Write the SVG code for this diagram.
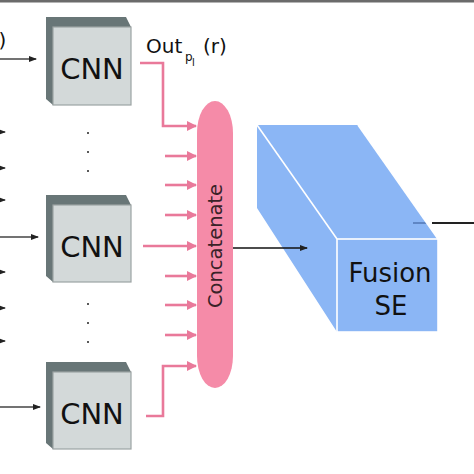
<svg xmlns="http://www.w3.org/2000/svg" width="474" height="474" viewBox="0 0 474 474">
<style>
text{font-family:"DejaVu Sans","Liberation Sans",sans-serif}
.dark{fill:#687677}
.front{fill:#d3d9d9;stroke:#9ca3a3;stroke-width:1.2}
.cnn{font-size:29px;fill:#111;text-anchor:middle}
.in{stroke:#444;stroke-width:1.3;fill:none}
.pk{stroke:#e9799a;stroke-width:2.6;fill:none}
.dot{fill:#222}
.blue{fill:#8bb6f5}
</style>
<defs>
<marker id="ah" markerWidth="8" markerHeight="6" refX="7" refY="3" orient="auto" markerUnits="userSpaceOnUse"><path d="M0,0 L8,3 L0,6 Z" fill="#222"/></marker>
<marker id="pa" markerWidth="10" markerHeight="10" refX="9" refY="5" orient="auto" markerUnits="userSpaceOnUse"><path d="M0,0 L10,5 L0,10 Z" fill="#e9799a"/></marker>
</defs>
<rect x="0" y="0" width="474" height="2.5" fill="#6b6b6b"/>
<text x="-1.5" y="47" font-size="20" fill="#111">)</text>

<g id="cnn1">
<path class="dark" d="M46,17 L126,17 L131,27 L53,27 L53,105 L46,99 Z"/>
<rect class="front" x="53" y="27" width="78" height="78"/>
<text class="cnn" x="92" y="79">CNN</text>
</g>
<g id="cnn2">
<path class="dark" d="M46,195 L126,195 L131,205 L53,205 L53,282 L46,276 Z"/>
<rect class="front" x="53" y="205" width="78" height="77"/>
<text class="cnn" x="92" y="257">CNN</text>
</g>
<g id="cnn3">
<path class="dark" d="M46,362 L126,362 L131,372 L53,372 L53,449 L46,443 Z"/>
<rect class="front" x="53" y="372" width="78" height="77"/>
<text class="cnn" x="92" y="424">CNN</text>
</g>

<g id="out-label" fill="#111">
<text x="146" y="53" font-size="20">Out</text>
<text x="185" y="61" font-size="12">p</text>
<text x="192" y="66" font-size="10">l</text>
<text x="203" y="53" font-size="20">(r)</text>
</g>

<g id="dots">
<circle class="dot" cx="88" cy="133" r="1"/>
<circle class="dot" cx="88" cy="152" r="1"/>
<circle class="dot" cx="88" cy="171" r="1"/>
<circle class="dot" cx="88" cy="304" r="1"/>
<circle class="dot" cx="88" cy="323" r="1"/>
<circle class="dot" cx="88" cy="342" r="1"/>
</g>

<g id="concatenate">
<rect x="197" y="101" width="36" height="287" rx="18" ry="32" fill="#f58ba8"/>
<text transform="translate(222,246) rotate(-90)" font-size="19.5" text-anchor="middle" fill="#3a2228">Concatenate</text>
</g>

<g id="fusion">
<path class="blue" d="M257,125 L358,125 L438,239 L337,239 L337,332 L257,208 Z"/>
<line x1="257" y1="125" x2="337" y2="239" stroke="#fff" stroke-width="1.6"/>
<line x1="413" y1="223" x2="427" y2="223" stroke="#5f86c4" stroke-width="2"/>
<path d="M358,125 L438,239" stroke="#fff" stroke-width="1.6" fill="none"/>
<rect class="blue" x="337" y="239" width="101" height="93" stroke="#fff" stroke-width="1.6"/>
<text x="390" y="282" font-size="26" text-anchor="middle" fill="#111">Fusion</text>
<text x="391" y="315" font-size="26" text-anchor="middle" fill="#111">SE</text>
</g>

<g id="connectors">
<line class="in" x1="0" y1="59" x2="36" y2="59" marker-end="url(#ah)"/>
<line class="in" x1="0" y1="237" x2="38" y2="237" marker-end="url(#ah)"/>
<line class="in" x1="0" y1="407" x2="40" y2="407" marker-end="url(#ah)"/>
<line class="in" x1="0" y1="132" x2="5" y2="132" marker-end="url(#ah)"/>
<line class="in" x1="0" y1="168" x2="5" y2="168" marker-end="url(#ah)"/>
<line class="in" x1="0" y1="200" x2="5" y2="200" marker-end="url(#ah)"/>
<line class="in" x1="0" y1="272" x2="5" y2="272" marker-end="url(#ah)"/>
<line class="in" x1="0" y1="308" x2="5" y2="308" marker-end="url(#ah)"/>
<line class="in" x1="0" y1="341" x2="5" y2="341" marker-end="url(#ah)"/>

<path class="pk" d="M140,63 L163,63 L163,126 L196,126" marker-end="url(#pa)"/>
<line class="pk" x1="165" y1="156" x2="196" y2="156" marker-end="url(#pa)"/>
<line class="pk" x1="165" y1="185" x2="196" y2="185" marker-end="url(#pa)"/>
<line class="pk" x1="165" y1="215" x2="196" y2="215" marker-end="url(#pa)"/>
<line class="pk" x1="143" y1="246" x2="196" y2="246" marker-end="url(#pa)"/>
<line class="pk" x1="165" y1="276" x2="196" y2="276" marker-end="url(#pa)"/>
<line class="pk" x1="165" y1="305" x2="196" y2="305" marker-end="url(#pa)"/>
<line class="pk" x1="165" y1="335" x2="196" y2="335" marker-end="url(#pa)"/>
<path class="pk" d="M146,416 L163,416 L163,366 L196,366" marker-end="url(#pa)"/>

<line x1="233" y1="248" x2="307" y2="248" stroke="#111" stroke-width="1.5" marker-end="url(#ah)"/>
<line x1="432" y1="223" x2="474" y2="223" stroke="#222" stroke-width="2.2"/>
</g>
</svg>
